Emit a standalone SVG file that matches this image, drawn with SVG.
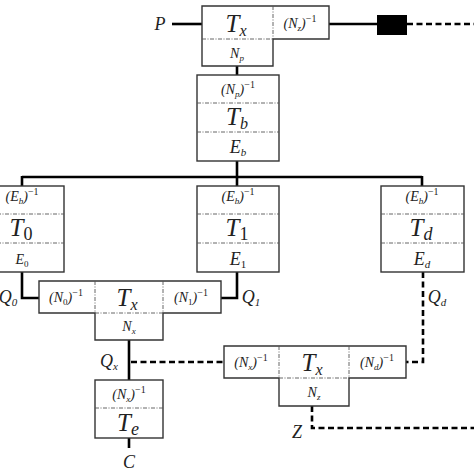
<svg xmlns="http://www.w3.org/2000/svg" width="474" height="474" viewBox="0 0 474 474">
<style>
.box{fill:#fff;stroke:#333;stroke-width:1.4}
.div{stroke:#555;stroke-width:0.9;stroke-dasharray:4 1.5 1 1.5;fill:none}
.c{stroke:#000;stroke-width:2.6;fill:none}
.d{stroke:#000;stroke-width:2.6;fill:none;stroke-dasharray:6 3.5}
text{font-family:"Liberation Serif","Times New Roman",serif;font-style:italic;fill:#222;text-anchor:middle}
.big{font-size:25px}
.sm{font-size:14px}
.lb{font-size:18px}
.s1{font-size:9px}
.s2{font-size:10px;font-style:normal}
</style>
<rect width="474" height="474" fill="#fff"/>
<g id="connectors">
<path class="c" d="M172,24H202"/>
<path class="c" d="M329,24H377"/>
<rect x="377" y="15" width="30" height="20" fill="#000"/>
<path class="d" d="M407,24H474"/>
<path class="c" d="M237,66V75"/>
<path class="c" d="M237,161V177M22,177H422M22,176V186M237,177V186M422,176V186"/>
<path class="c" d="M22,272V298H39"/>
<path class="c" d="M237,272V298H221"/>
<path class="d" d="M423,272V362H406"/>
<path class="c" d="M129,340V380"/>
<path class="d" d="M131,362H224"/>
<path class="d" d="M312,406V428H474"/>
<path class="c" d="M129,438V448"/>
<text class="lb" x="160" y="30">P</text>
<text class="lb" x="8" y="303">Q<tspan dy="3" font-size="11">0</tspan></text>
<text class="lb" x="251" y="303">Q<tspan dy="3" font-size="11">1</tspan></text>
<text class="lb" x="437" y="303">Q<tspan dy="3" font-size="11">d</tspan></text>
<text class="lb" x="109" y="367">Q<tspan dy="3" font-size="11">x</tspan></text>
<text class="lb" x="297" y="438">Z</text>
<text class="lb" x="129" y="468">C</text>
</g>
<g id="node-tx-top">
<path class="box" d="M202,6H329V39H273V66H202Z"/>
<path class="div" d="M273,6V39M202,39H273"/>
<text class="big" x="236" y="32">T<tspan dy="4" font-size="16">x</tspan></text>
<text class="sm" x="300" y="28">(N<tspan dy="3" class="s1">z</tspan><tspan dy="-3">)</tspan><tspan dy="-6" class="s2">−1</tspan></text>
<text class="sm" x="237" y="58">N<tspan dy="3" class="s1">p</tspan></text>
</g>
<g id="node-tb">
<rect class="box" x="197" y="75" width="82" height="86"/>
<path class="div" d="M197,103H279M197,132H279"/>
<text class="sm" x="238" y="94">(N<tspan dy="3" class="s1">p</tspan><tspan dy="-3">)</tspan><tspan dy="-6" class="s2">−1</tspan></text>
<text class="big" x="237" y="125">T<tspan dy="4" font-size="16">b</tspan></text>
<text class="lb" x="238" y="153">E<tspan dy="3" font-size="11">b</tspan></text>
</g>
<g id="node-t0">
<rect class="box" x="-19" y="186" width="83" height="86"/>
<path class="div" d="M-19,214H64M-19,243H64"/>
<text class="sm" x="22" y="201">(E<tspan dy="3" class="s1">b</tspan><tspan dy="-3">)</tspan><tspan dy="-6" class="s2">−1</tspan></text>
<text class="big" x="21" y="236">T<tspan dy="4" font-size="18" font-style="normal">0</tspan></text>
<text class="sm" x="22" y="264">E<tspan dy="3" class="s1" font-style="normal">0</tspan></text>
</g>
<g id="node-t1">
<rect class="box" x="197" y="186" width="82" height="86"/>
<path class="div" d="M197,214H279M197,243H279"/>
<text class="sm" x="238" y="201">(E<tspan dy="3" class="s1">b</tspan><tspan dy="-3">)</tspan><tspan dy="-6" class="s2">−1</tspan></text>
<text class="big" x="237" y="236">T<tspan dy="4" font-size="18" font-style="normal">1</tspan></text>
<text class="lb" x="238" y="265">E<tspan dy="3" font-size="11" font-style="normal">1</tspan></text>
</g>
<g id="node-td">
<rect class="box" x="381" y="186" width="83" height="86"/>
<path class="div" d="M381,214H464M381,243H464"/>
<text class="sm" x="422" y="201">(E<tspan dy="3" class="s1">b</tspan><tspan dy="-3">)</tspan><tspan dy="-6" class="s2">−1</tspan></text>
<text class="big" x="421" y="236">T<tspan dy="4" font-size="18">d</tspan></text>
<text class="lb" x="422" y="265">E<tspan dy="3" font-size="11">d</tspan></text>
</g>
<g id="node-tx-mid">
<path class="box" d="M39,281H221V313H163V340H95V313H39Z"/>
<path class="div" d="M95,281V313M163,281V313M95,313H163"/>
<text class="sm" x="66" y="302">(N<tspan dy="3" class="s1" font-style="normal">0</tspan><tspan dy="-3">)</tspan><tspan dy="-6" class="s2">−1</tspan></text>
<text class="big" x="127" y="306">T<tspan dy="4" font-size="16">x</tspan></text>
<text class="sm" x="191" y="302">(N<tspan dy="3" class="s1" font-style="normal">1</tspan><tspan dy="-3">)</tspan><tspan dy="-6" class="s2">−1</tspan></text>
<text class="sm" x="129" y="331">N<tspan dy="3" class="s1">x</tspan></text>
</g>
<g id="node-te">
<rect class="box" x="95" y="380" width="68" height="58"/>
<path class="div" d="M95,408H163"/>
<text class="sm" x="129" y="399">(N<tspan dy="3" class="s1">x</tspan><tspan dy="-3">)</tspan><tspan dy="-6" class="s2">−1</tspan></text>
<text class="big" x="128" y="431">T<tspan dy="4" font-size="18">e</tspan></text>
</g>
<g id="node-tx-low">
<path class="box" d="M224,346H406V378H349V406H279V378H224Z"/>
<path class="div" d="M279,346V378M349,346V378M279,378H349"/>
<text class="sm" x="251" y="367">(N<tspan dy="3" class="s1">x</tspan><tspan dy="-3">)</tspan><tspan dy="-6" class="s2">−1</tspan></text>
<text class="big" x="312" y="371">T<tspan dy="4" font-size="16">x</tspan></text>
<text class="sm" x="377" y="367">(N<tspan dy="3" class="s1">d</tspan><tspan dy="-3">)</tspan><tspan dy="-6" class="s2">−1</tspan></text>
<text class="sm" x="314" y="397">N<tspan dy="3" class="s1">z</tspan></text>
</g>
</svg>
